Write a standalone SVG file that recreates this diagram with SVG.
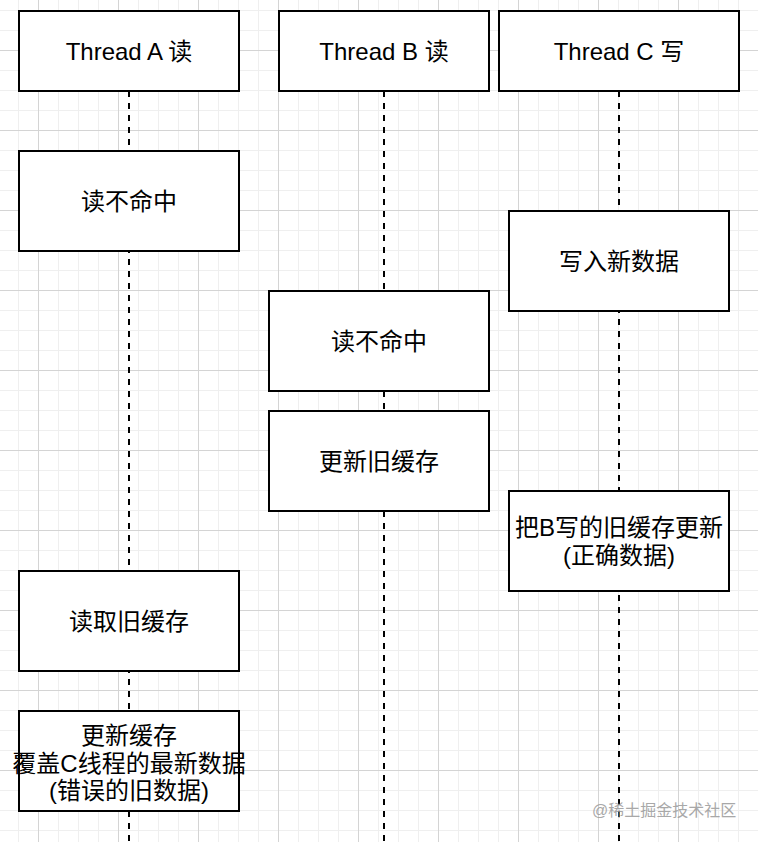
<svg xmlns="http://www.w3.org/2000/svg" width="758" height="842" viewBox="0 0 758 842">
<defs>
<pattern id="minor" width="20" height="20" patternUnits="userSpaceOnUse" x="-2" y="10">
<path d="M 0.5 0 L 0.5 20 M 0 0.5 L 20 0.5" fill="none" stroke="#efefef" stroke-width="1"/>
</pattern>
<pattern id="major" width="80" height="80" patternUnits="userSpaceOnUse" x="-42" y="-30">
<path d="M 0.5 0 L 0.5 80 M 0 0.5 L 80 0.5" fill="none" stroke="#d4d4d4" stroke-width="1"/>
</pattern>
</defs>
<style>
.box{fill:#ffffff;stroke:#000000;stroke-width:2}
.life{stroke:#000000;stroke-width:2;stroke-dasharray:6 6;fill:none}
.t{font-family:"Liberation Sans","Noto Sans CJK SC",sans-serif;font-size:24px;fill:#000000;text-anchor:middle}
.wm{font-family:"Liberation Sans","Noto Sans CJK SC",sans-serif;font-size:16px;fill:#9a9a9a;opacity:0.85}
</style>
<rect width="758" height="842" fill="#ffffff"/>
<rect width="758" height="842" fill="url(#minor)"/>
<rect width="758" height="842" fill="url(#major)"/>
<g id="connectors">
<line class="life" x1="129" y1="91" x2="129" y2="842"/>
<line class="life" x1="384" y1="91" x2="384" y2="842"/>
<line class="life" x1="619" y1="91" x2="619" y2="842"/>
</g>
<g id="threadA"><rect class="box" x="19" y="11" width="220" height="80"/><text class="t" x="129" y="60">Thread A 读</text></g>
<g id="threadB"><rect class="box" x="279" y="11" width="210" height="80"/><text class="t" x="384" y="60">Thread B 读</text></g>
<g id="threadC"><rect class="box" x="499" y="11" width="240" height="80"/><text class="t" x="619" y="60">Thread C 写</text></g>
<g id="a1"><rect class="box" x="19" y="151" width="220" height="100"/><text class="t" x="129" y="210">读不命中</text></g>
<g id="c1"><rect class="box" x="509" y="211" width="220" height="100"/><text class="t" x="619" y="270">写入新数据</text></g>
<g id="b1"><rect class="box" x="269" y="291" width="220" height="100"/><text class="t" x="379" y="350">读不命中</text></g>
<g id="b2"><rect class="box" x="269" y="411" width="220" height="100"/><text class="t" x="379" y="470">更新旧缓存</text></g>
<g id="c2"><rect class="box" x="509" y="491" width="220" height="100"/><text class="t" x="619" y="536">把B写的旧缓存更新</text><text class="t" x="619" y="564">(正确数据)</text></g>
<g id="a2"><rect class="box" x="19" y="571" width="220" height="100"/><text class="t" x="129" y="630">读取旧缓存</text></g>
<g id="a3"><rect class="box" x="19" y="711" width="220" height="100"/><text class="t" x="129" y="744">更新缓存</text><text class="t" x="129" y="772">覆盖C线程的最新数据</text><text class="t" x="129" y="799">(错误的旧数据)</text></g>
<text class="wm" x="592" y="816">@稀土掘金技术社区</text>
</svg>
